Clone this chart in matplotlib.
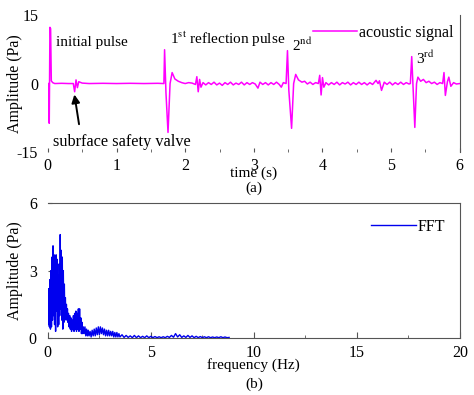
import matplotlib
matplotlib.use("Agg")
import matplotlib.pyplot as plt
import numpy as np
from matplotlib.ticker import MultipleLocator

plt.rcParams["font.family"] = ["Liberation Serif", "DejaVu Serif"]
plt.rcParams["mathtext.fontset"] = "stix"

# ---- acoustic signal (time s, amplitude Pa) ----
signal_points = [
    (0.000, 0.0), (0.015, 0.0), (0.020, -8.7), (0.030, 12.3), (0.040, 12.0),
    (0.050, 0.6), (0.070, 0.2), (0.100, 0.0), (0.200, 0.05), (0.300, 0.0),
    (0.370, 0.0), (0.390, -1.8), (0.410, 0.8), (0.430, -0.9), (0.450, 0.4),
    (0.500, 0.1), (0.600, 0.0), (0.800, 0.05), (1.000, 0.0), (1.200, 0.05),
    (1.400, 0.0), (1.600, 0.05), (1.680, 0.0),
    # 1st reflection
    (1.690, 0.0), (1.700, 7.4), (1.720, -2.0), (1.750, -10.7), (1.780, 0.0),
    (1.810, 2.4), (1.850, 1.0), (1.900, 0.5), (1.950, 0.2), (2.000, 0.0),
    (2.050, 0.2), (2.100, 0.1), (2.150, -0.2), (2.170, 1.5), (2.190, -1.8),
    (2.210, 0.9), (2.230, -0.8), (2.260, 0.2), (2.300, -0.3), (2.340, 0.2),
    (2.380, -0.2), (2.420, 0.3), (2.460, -0.3), (2.500, 0.1), (2.540, -0.4),
    (2.580, 0.2), (2.620, -0.2), (2.660, 0.3), (2.700, -0.3), (2.740, 0.1),
    (2.780, -0.2), (2.820, 0.3), (2.860, -0.3), (2.900, 0.2), (2.940, -0.2),
    (2.980, 0.2), (3.020, -0.1), (3.060, -1.0), (3.090, 0.3), (3.130, -0.2),
    (3.170, 0.2), (3.210, -0.3), (3.250, 0.2), (3.290, -0.2), (3.330, 0.3),
    (3.370, -0.2), (3.400, -0.8), (3.430, 0.2), (3.470, 0.0),
    # 2nd reflection
    (3.490, 7.2), (3.510, -1.5), (3.550, -9.8), (3.580, 0.0), (3.610, 2.0),
    (3.650, 0.8), (3.700, 0.3), (3.740, 0.5), (3.780, -0.1), (3.820, 0.3),
    (3.860, -0.2), (3.900, 0.2), (3.940, 0.0), (3.960, 1.8), (3.980, -2.5),
    (4.000, 1.3), (4.020, -0.8), (4.050, 0.2), (4.090, -0.3), (4.130, 0.2),
    (4.170, -0.2), (4.210, 0.3), (4.250, -0.3), (4.290, 0.2), (4.330, -0.1),
    (4.370, 0.3), (4.410, -0.3), (4.450, 0.2), (4.490, -0.2), (4.530, 0.3),
    (4.570, -0.2), (4.610, 0.2), (4.650, -0.3), (4.690, 0.2), (4.730, -0.2),
    (4.780, 0.7), (4.810, 0.0), (4.830, 0.6), (4.860, -1.5), (4.900, 0.3),
    (4.940, -0.2), (4.980, 0.3), (5.020, -0.3), (5.060, 0.2), (5.100, -0.2),
    (5.140, 0.3), (5.180, -0.2), (5.220, 0.2), (5.260, -0.1), (5.280, 0.0),
    # 3rd reflection
    (5.300, 5.9), (5.320, -1.0), (5.345, -9.6), (5.370, 0.0), (5.390, 1.4),
    (5.430, 0.5), (5.470, 0.9), (5.510, 0.2), (5.550, 0.5), (5.590, 0.0),
    (5.630, 0.3), (5.670, -0.2), (5.710, 0.2), (5.750, 0.0), (5.770, 2.4),
    (5.790, -2.6), (5.820, 0.4), (5.840, 1.4), (5.870, -0.6), (5.910, 0.2),
    (5.950, -0.1), (6.000, 0.0),
]
time_s = np.array([p[0] for p in signal_points])
amp_pa = np.array([p[1] for p in signal_points])

# ---- FFT spectrum (Hz, Pa) ----
fft_points = [
    (0.000, 1.5), (0.025, 0.6), (0.050, 2.2), (0.075, 0.5), (0.100, 2.6),
    (0.125, 0.4), (0.150, 3.0), (0.175, 0.5), (0.200, 3.6), (0.225, 0.8),
    (0.250, 4.1), (0.275, 1.0), (0.300, 3.7), (0.325, 0.6), (0.350, 3.2),
    (0.375, 0.3), (0.400, 3.7), (0.425, 1.2), (0.450, 3.5), (0.475, 0.5),
    (0.500, 2.8), (0.525, 0.6), (0.550, 3.3), (0.575, 1.0), (0.600, 4.6),
    (0.625, 1.3), (0.650, 3.9), (0.675, 0.8), (0.700, 3.6), (0.725, 0.4),
    (0.750, 3.0), (0.775, 0.7), (0.800, 2.4), (0.825, 0.8), (0.850, 1.8),
    (0.875, 0.9), (0.900, 1.5), (0.925, 0.8), (0.950, 1.3), (0.975, 0.7),
    (1.000, 1.1), (1.030, 0.5), (1.060, 1.0), (1.090, 0.4), (1.120, 0.9),
    (1.150, 0.3), (1.180, 0.8), (1.210, 0.4), (1.240, 1.0), (1.270, 0.3),
    (1.300, 1.1), (1.330, 0.4), (1.360, 1.2), (1.390, 0.3), (1.420, 1.1),
    (1.450, 0.4), (1.480, 1.3), (1.510, 0.3), (1.540, 1.3), (1.570, 0.4),
    (1.600, 0.9), (1.630, 0.2), (1.660, 0.7), (1.690, 0.2), (1.720, 0.5),
    (1.760, 0.2), (1.800, 0.5), (1.840, 0.1), (1.880, 0.4), (1.920, 0.1),
    (1.960, 0.35), (2.000, 0.1), (2.050, 0.3), (2.100, 0.05), (2.150, 0.35),
    (2.200, 0.1), (2.250, 0.4), (2.300, 0.1), (2.350, 0.45), (2.400, 0.15),
    (2.450, 0.5), (2.500, 0.15), (2.550, 0.5), (2.600, 0.2), (2.650, 0.45),
    (2.700, 0.15), (2.750, 0.4), (2.800, 0.1), (2.850, 0.35), (2.900, 0.1),
    (2.950, 0.35), (3.000, 0.1), (3.050, 0.3), (3.100, 0.1), (3.150, 0.3),
    (3.200, 0.05), (3.250, 0.25), (3.300, 0.05), (3.350, 0.25), (3.400, 0.05),
    (3.450, 0.2), (3.500, 0.05), (3.600, 0.15), (3.700, 0.03), (3.800, 0.12),
    (3.900, 0.03), (4.000, 0.1), (4.100, 0.02), (4.200, 0.12), (4.300, 0.02),
    (4.400, 0.1), (4.500, 0.02), (4.600, 0.08), (4.700, 0.02), (4.800, 0.1),
    (4.900, 0.02), (5.000, 0.08), (5.100, 0.02), (5.200, 0.07), (5.300, 0.02),
    (5.400, 0.06), (5.500, 0.02), (5.600, 0.06), (5.700, 0.02), (5.800, 0.08),
    (5.900, 0.03), (6.000, 0.12), (6.100, 0.04), (6.200, 0.2), (6.300, 0.05),
    (6.400, 0.15), (6.500, 0.03), (6.600, 0.1), (6.700, 0.03), (6.800, 0.12),
    (6.900, 0.03), (7.000, 0.1), (7.100, 0.02), (7.200, 0.08), (7.300, 0.02),
    (7.400, 0.07), (7.500, 0.02), (7.600, 0.06), (7.700, 0.02), (7.800, 0.06),
    (7.900, 0.02), (8.000, 0.05), (8.100, 0.02), (8.200, 0.05), (8.300, 0.02),
    (8.400, 0.06), (8.500, 0.02), (8.600, 0.05), (8.700, 0.02), (8.800, 0.03),
]
freq_hz = np.array([p[0] for p in fft_points])
fft_pa = np.array([p[1] for p in fft_points])

MAGENTA = "#ff00ff"
BLUE = "#0000ee"
GRAY = "#555555"
FS = 11

fig = plt.figure(figsize=(4.74, 3.95), dpi=100)
ax1 = fig.add_axes([0.101, 0.615, 0.869, 0.347])
ax2 = fig.add_axes([0.101, 0.144, 0.869, 0.342])

# ---- (a) time signal ----
ax1.plot(time_s, amp_pa, color=MAGENTA, lw=1.1, label="acoustic signal")
ax1.set_xlim(0, 6)
ax1.set_ylim(-15, 15)
ax1.set_yticks([-15, 0, 15])
ax1.set_yticklabels(["-15", "0", "15"])
ax1.xaxis.set_major_locator(MultipleLocator(1))
ax1.xaxis.set_minor_locator(MultipleLocator(0.5))
for s in ["left", "top", "bottom"]:
    ax1.spines[s].set_visible(False)
ax1.spines["right"].set_color(GRAY)
ax1.tick_params(axis="x", which="major", direction="in", length=3, color=GRAY,
                labelsize=FS + 0.5, pad=4)
ax1.tick_params(axis="x", which="minor", direction="in", length=2, color=GRAY)
ax1.tick_params(axis="y", length=0, labelsize=FS + 0.5, pad=7)
ax1.set_xlabel("time (s)", fontsize=FS, labelpad=-5)
ax1.text(0.5, -0.265, "(a)", transform=ax1.transAxes, ha="center", va="center", fontsize=FS)
ax1.set_ylabel("Amplitude (Pa)", fontsize=FS + 0.5)
ax1.yaxis.set_label_coords(-0.06, 0.5)
ax1.legend(loc="upper right", frameon=False, fontsize=FS + 0.5, handlelength=2.8,
           handletextpad=0.1, borderaxespad=0.0, bbox_to_anchor=(1.0, 0.975))

ax1.text(0.12, 9.0, "initial pulse", fontsize=FS, va="center")
ax1.text(1.78, 9.6, "1$^{\\mathrm{st}}$ reflection pulse", fontsize=FS, va="center")
ax1.text(3.55, 8.4, "2$^{\\mathrm{nd}}$", fontsize=FS, va="center")
ax1.text(5.36, 5.6, "3$^{\\mathrm{rd}}$", fontsize=FS, va="center")
ax1.text(0.07, -12.8, "subrface safety valve", fontsize=FS + 0.7, va="center")
ax1.annotate("", xy=(0.38, -1.8), xytext=(0.46, -9.5),
             arrowprops=dict(arrowstyle="-|>", color="black", lw=1.4, mutation_scale=12))

# ---- (b) FFT ----
ax2.plot(freq_hz, fft_pa, color=BLUE, lw=1.0, label="FFT")
ax2.set_xlim(0, 20)
ax2.set_ylim(0, 6)
ax2.set_yticks([0, 3, 6])
ax2.xaxis.set_major_locator(MultipleLocator(5))
ax2.xaxis.set_minor_locator(MultipleLocator(2.5))
ax2.spines["left"].set_visible(False)
for s in ["top", "right", "bottom"]:
    ax2.spines[s].set_color(GRAY)
ax2.tick_params(axis="x", which="major", direction="in", length=4, color=GRAY,
                labelsize=FS + 0.5, pad=5)
ax2.tick_params(axis="x", which="minor", direction="in", length=2, color=GRAY)
ax2.tick_params(axis="y", which="major", direction="in", length=3, color=GRAY,
                labelsize=FS + 0.5, pad=8)
ax2.set_xlabel("frequency (Hz)", fontsize=FS, labelpad=-2)
ax2.text(0.5, -0.34, "(b)", transform=ax2.transAxes, ha="center", va="center", fontsize=FS)
ax2.set_ylabel("Amplitude (Pa)", fontsize=FS + 0.5)
ax2.yaxis.set_label_coords(-0.06, 0.5)
ax2.legend(loc="upper right", frameon=False, fontsize=FS + 0.5, handlelength=2.8,
           handletextpad=0.1, borderaxespad=0.0, bbox_to_anchor=(0.98, 0.93))

fig.savefig("out.png", dpi=100)
